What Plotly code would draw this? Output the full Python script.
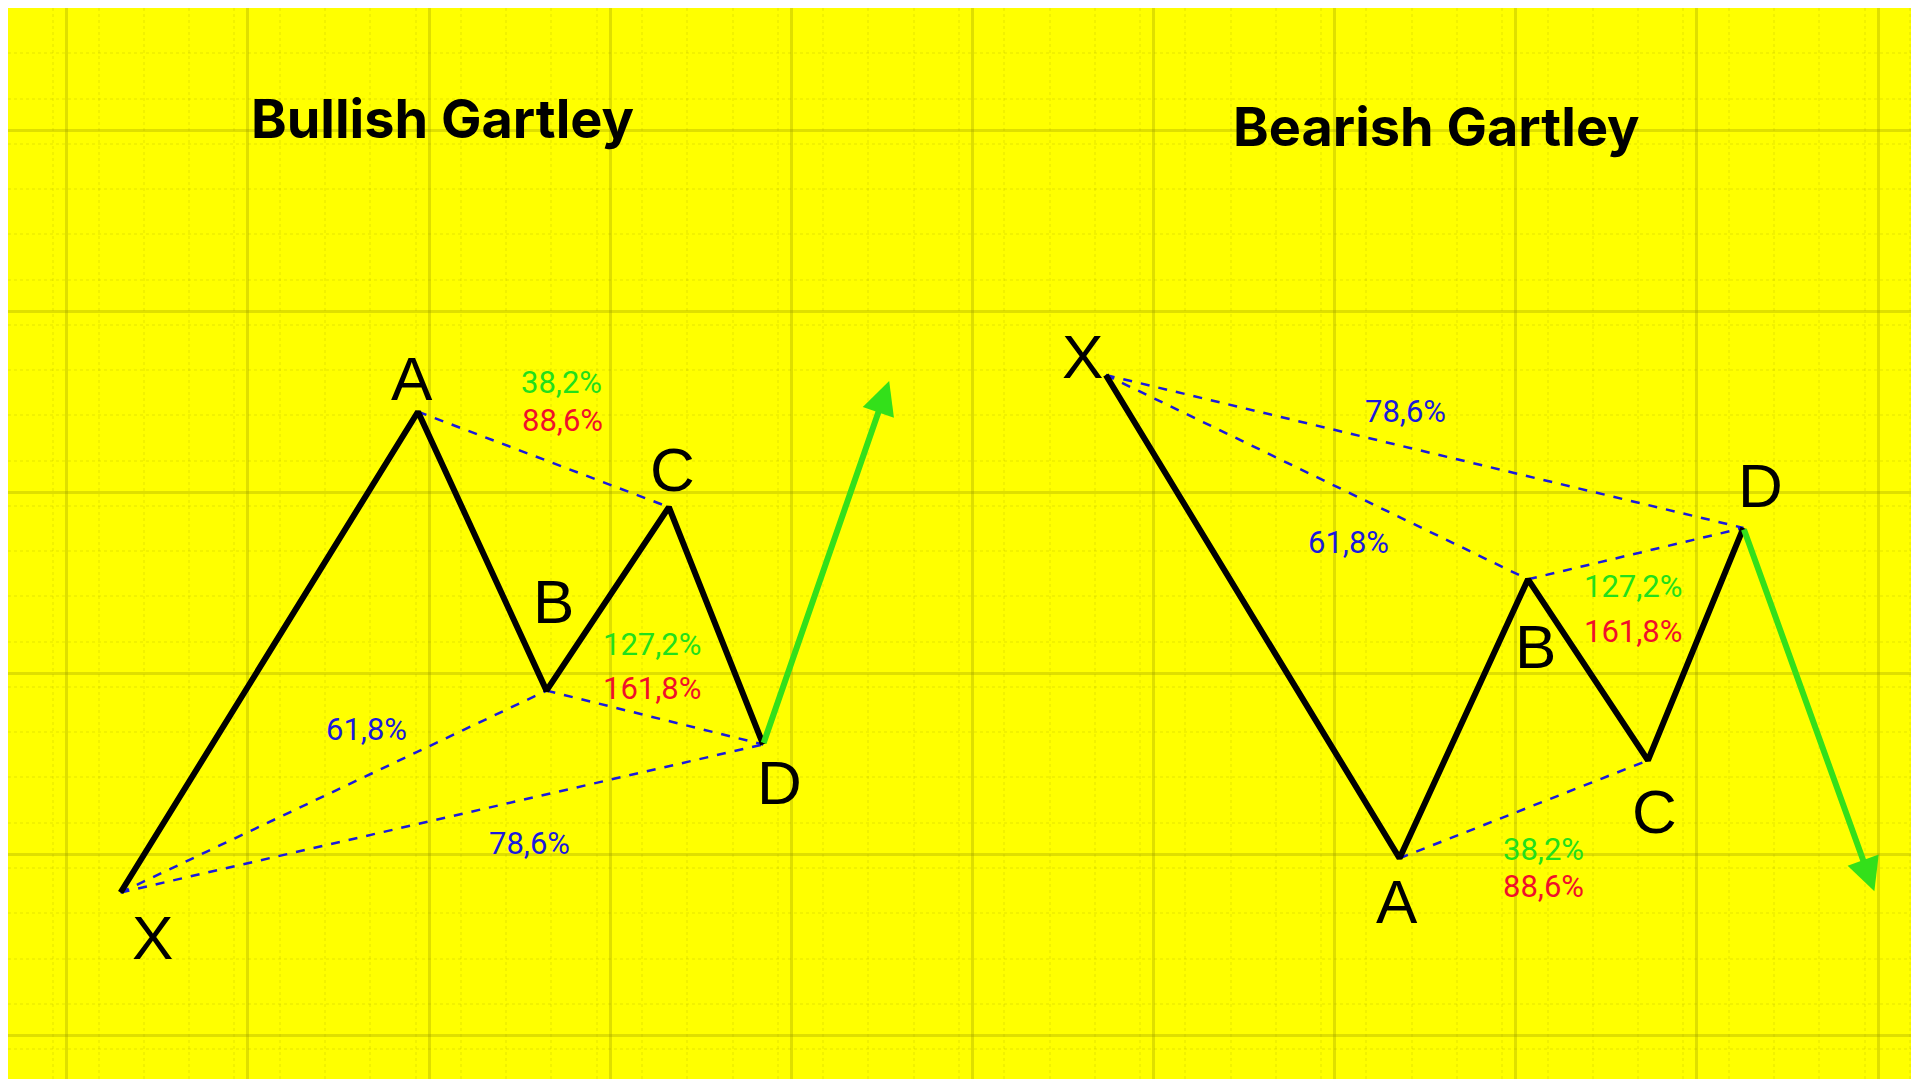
import plotly.graph_objects as go

W, H = 1568, 882
# Bullish pattern points (image coords)
bull_names = ["X", "A", "B", "C", "D"]
bull_x = [92, 335, 440, 540, 617]
bull_y = [723, 330, 558, 408, 602]
bull_arrow = (720, 305)
# Bearish pattern points
bear_names = ["X", "A", "B", "C", "D"]
bear_x = [897, 1137, 1242, 1340, 1418]
bear_y = [300, 695, 467, 615, 425]
bear_arrow = (1525, 722)

bull_dashed = [("A", "C"), ("X", "B"), ("B", "D"), ("X", "D")]
bear_dashed = [("X", "D"), ("X", "B"), ("B", "D"), ("A", "C")]

bull_letter_pos = {"X": (118, 760), "A": (330, 303), "B": (446, 485), "C": (543, 377), "D": (630, 633)}
bear_letter_pos = {"X": (878, 285), "A": (1135, 730), "B": (1248, 522), "C": (1345, 657), "D": (1432, 390)}

pct_text = ["38,2%", "88,6%", "127,2%", "161,8%", "61,8%", "78,6%",
            "78,6%", "61,8%", "127,2%", "161,8%", "38,2%", "88,6%"]
pct_x = [452, 453, 527, 527, 293, 426, 1142, 1095, 1328, 1328, 1255, 1255]
pct_y = [306, 337, 520, 556, 590, 683, 330, 437, 473, 510, 688, 718]
pct_col = ["#22e01a", "#f0102a", "#22e01a", "#f0102a", "#1a1adc", "#1a1adc",
           "#1a1adc", "#1a1adc", "#22e01a", "#f0102a", "#22e01a", "#f0102a"]

titles = ["Bullish Gartley", "Bearish Gartley"]
title_x = [355, 1167]
title_y = [90, 97]

fig = go.Figure()
for names, xs, ys, dashed, lp, arrow in [
    (bull_names, bull_x, bull_y, bull_dashed, bull_letter_pos, bull_arrow),
    (bear_names, bear_x, bear_y, bear_dashed, bear_letter_pos, bear_arrow)]:
    idx = {n: i for i, n in enumerate(names)}
    for a, b in dashed:
        fig.add_trace(go.Scatter(x=[xs[idx[a]], xs[idx[b]]], y=[ys[idx[a]], ys[idx[b]]],
                                 mode="lines", line=dict(color="#1a1adc", width=2.5, dash="dash"),
                                 hoverinfo="skip"))
    fig.add_trace(go.Scatter(x=xs, y=ys, mode="lines", line=dict(color="black", width=6),
                             hoverinfo="skip"))
    fig.add_annotation(x=arrow[0], y=arrow[1], ax=xs[-1], ay=ys[-1], xref="x", yref="y",
                       axref="x", ayref="y", showarrow=True, arrowhead=2, arrowsize=1.1,
                       arrowwidth=6, arrowcolor="#33e01a", text="")
    for n in names:
        fig.add_annotation(x=lp[n][0], y=lp[n][1], text=n, showarrow=False,
                           font=dict(family="Liberation Sans", size=62, color="black"))

for t, x, y, c in zip(pct_text, pct_x, pct_y, pct_col):
    fig.add_annotation(x=x, y=y, text=t, showarrow=False,
                       font=dict(family="Roboto", size=31, color=c))
for t, x, y in zip(titles, title_x, title_y):
    fig.add_annotation(x=x, y=y, text="<b>" + t + "</b>", showarrow=False,
                       font=dict(family="Inter", size=54, color="black", weight=900))

axcommon = dict(showticklabels=False, zeroline=False, showline=False,
                gridcolor="rgba(150,150,0,0.3)", gridwidth=3,
                minor=dict(dtick=37, showgrid=True, gridcolor="rgba(150,150,0,0.12)",
                           griddash="dot", gridwidth=2))
fig.update_xaxes(range=[0, W], tick0=48, dtick=148, **axcommon)
fig.update_yaxes(range=[H, 0], tick0=100, dtick=148, **axcommon)
fig.update_layout(width=1919, height=1079, margin=dict(l=0, r=0, t=0, b=0),
                  paper_bgcolor="#ffff00", plot_bgcolor="#ffff00", showlegend=False)
fig.write_html("out.html")
